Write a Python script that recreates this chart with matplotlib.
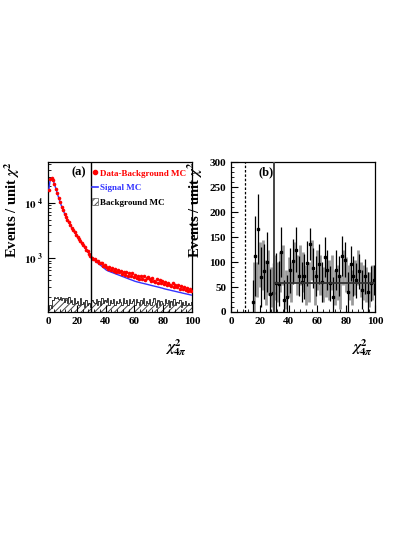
import numpy as np
import matplotlib
matplotlib.use("Agg")
import matplotlib.pyplot as plt
from matplotlib.lines import Line2D
from matplotlib.patches import Patch
from matplotlib.ticker import MultipleLocator, LogLocator, NullFormatter, FixedLocator

plt.rcParams['font.family'] = ['Liberation Serif', 'DejaVu Serif']
plt.rcParams['font.weight'] = 'bold'
plt.rcParams['mathtext.fontset'] = 'stix'
plt.rcParams['hatch.linewidth'] = 0.7

# ---------------- data: panel (a) ----------------
edges_a = np.arange(0, 101, 1)
centers_a = np.arange(0.5, 100, 1)

signal_mc = [17000, 26500, 28500, 26000, 22000, 18000, 14800, 12200, 10200, 8600,
             7400, 6400, 5600, 4950, 4400, 3950, 3550, 3200, 2900, 2650,
             2420, 2220, 2030, 1860, 1700, 1560, 1430, 1310, 1200, 1100,
             1010, 955, 905, 860, 818, 778, 740, 704, 670, 636,
             605, 588, 573, 560, 547, 535, 522, 510, 499, 487,
             476, 465, 455, 444, 434, 424, 414, 405, 396, 387,
             378, 372, 366, 361, 355, 350, 345, 340, 335, 330,
             325, 320, 315, 311, 306, 302, 297, 293, 288, 284,
             278, 274, 270, 266, 263, 259, 255, 252, 248, 245,
             241, 238, 235, 231, 228, 225, 222, 219, 216, 213]

data_minus_bkg = [17500, 27000, 28800, 25800, 22300, 17800, 14900, 12100, 10300, 8500,
                  7450, 6350, 5650, 4900, 4450, 3900, 3580, 3180, 2930, 2630,
                  2450, 2200, 2060, 1850, 1720, 1580, 1420, 1330, 1190, 1110,
                  1020, 970, 960, 890, 900, 830, 820, 800, 730, 740,
                  700, 640, 690, 610, 660, 590, 630, 560, 610, 550,
                  590, 520, 570, 500, 560, 480, 530, 470, 540, 450,
                  500, 440, 480, 420, 470, 410, 480, 400, 430, 450,
                  420, 385, 440, 380, 370, 410, 355, 400, 350, 380,
                  340, 370, 330, 360, 320, 310, 350, 300, 330, 295,
                  320, 280, 310, 275, 300, 265, 285, 255, 275, 250]

background_mc = [115, 140, 125, 170, 195, 185, 200, 180, 195, 170,
                 190, 160, 185, 150, 195, 160, 175, 145, 185, 150,
                 165, 140, 185, 145, 160, 132, 172, 138, 155, 132,
                 172, 160, 150, 178, 143, 166, 138, 185, 150, 172,
                 160, 190, 143, 172, 155, 184, 138, 166, 150, 178,
                 160, 143, 190, 155, 172, 138, 184, 150, 166, 178,
                 143, 184, 160, 138, 172, 155, 190, 143, 166, 150,
                 178, 138, 160, 190, 150, 132, 172, 143, 166, 155,
                 138, 184, 150, 172, 132, 166, 143, 178, 138, 160,
                 150, 172, 132, 160, 143, 166, 138, 155, 143, 160]

# ---------------- data: panel (b) ----------------
black_x = list(range(15, 100, 2))
black_y = [20, 113, 167, 70, 82, 100, 36, 38, 59, 57, 120, 25, 30, 84, 102, 125, 72, 60,
           72, 98, 137, 89, 72, 97, 60, 110, 84, 58, 30, 84, 72, 113, 105, 40, 97, 72,
           64, 82, 45, 72, 40, 58, 64]
black_err = [45, 80, 70, 60, 55, 60, 50, 60, 60, 45, 50, 40, 45, 45, 45, 45, 40, 40,
             45, 45, 32, 40, 40, 40, 40, 40, 40, 35, 40, 40, 40, 40, 35, 40, 35, 40,
             35, 35, 40, 35, 40, 35, 30]
gray_x = list(range(16, 99, 2))
gray_y = [50, 66, 95, 94, 60, 80, 50, 70, 60, 80, 95, 45, 70, 60, 100, 75, 95, 80, 55,
          60, 105, 50, 85, 75, 55, 70, 65, 80, 50, 60, 40, 90, 75, 60, 50, 70, 90, 65,
          60, 55, 45, 60]
gray_err = [50, 35, 45, 50, 45, 45, 40, 45, 40, 40, 40, 40, 40, 40, 40, 40, 40, 40, 40,
            40, 40, 35, 40, 40, 35, 40, 40, 35, 35, 35, 35, 35, 35, 35, 35, 35, 35, 35,
            35, 35, 35, 35]
fit_level = 58

# ---------------- figure ----------------
fig = plt.figure(figsize=(4.15, 5.37), dpi=100)
axa = fig.add_axes([0.1157, 0.419, 0.347, 0.279])
axb = fig.add_axes([0.5566, 0.419, 0.347, 0.279])

# ---- panel (a)
axa.set_yscale('log')
axa.stairs(background_mc, edges_a, baseline=1, fill=True, hatch='/////',
           facecolor='none', edgecolor='#444444', lw=0, zorder=1)
axa.stairs(background_mc, edges_a, baseline=1, fill=False, color='#222222', lw=0.6, zorder=2)
axa.plot(centers_a, signal_mc, color='#3333ff', lw=1.0, zorder=3)
axa.plot(centers_a, data_minus_bkg, 'o', color='#ff0000', ms=2.6, mew=0, zorder=4)
axa.axvline(30, color='black', lw=1.0, zorder=5)
axa.set_xlim(0, 100)
axa.set_ylim(105, 55000)
axa.xaxis.set_major_locator(MultipleLocator(20))
axa.xaxis.set_minor_locator(MultipleLocator(4))
axa.yaxis.set_major_locator(FixedLocator([1000, 10000]))
axa.yaxis.set_minor_locator(LogLocator(base=10, subs=np.arange(2, 10), numticks=20))
axa.yaxis.set_minor_formatter(NullFormatter())
axa.set_yticklabels([r'$\mathbf{10^{\ 3}}$', r'$\mathbf{10^{\ 4}}$'], fontsize=9)
axa.text(0.16, 0.93, '(a)', transform=axa.transAxes, fontsize=9, fontweight='bold',
         ha='left', va='center')

handles = [Line2D([], [], marker='o', color='#ff0000', ls='none', ms=3),
           Line2D([], [], color='#3333ff', lw=1.2),
           Patch(facecolor='white', edgecolor='#555555', hatch='/////', lw=0.5)]
labels = ['Data-Background MC', 'Signal MC', 'Background MC']
leg = axa.legend(handles, labels, loc='upper left', bbox_to_anchor=(0.305, 0.955),
                 frameon=False, borderaxespad=0, handlelength=0.7, handleheight=0.8,
                 handletextpad=0.15, labelspacing=0.68, borderpad=0,
                 prop=dict(size=6.5, weight='bold'))
for t, c in zip(leg.get_texts(), ['#ff0000', '#3333ff', 'black']):
    t.set_color(c)

axa.set_ylabel(r'Events / unit $\chi^2$', fontsize=10.5, fontweight='bold', loc='top')
axa.yaxis.set_label_coords(-0.18, 1.0)
axa.text(0.965, -0.165, r'$\chi^2_{4\pi}$', transform=axa.transAxes, fontsize=11,
         ha='right', va='top')

# ---- panel (b)
axb.errorbar(gray_x, gray_y, yerr=gray_err, fmt='none', ecolor='#9a9a9a', elinewidth=2.0,
             capsize=0, zorder=2)
axb.errorbar(black_x, black_y, yerr=black_err, fmt='s', color='black', ms=1.6,
             elinewidth=0.9, capsize=0, zorder=3)
axb.axvline(10, color='black', lw=0.9, ls=(0, (2, 1.5)), zorder=4)
axb.axvline(30, color='#444444', lw=1.4, zorder=4)
axb.hlines(fit_level, 30, 100, color='#333333', lw=1.3, zorder=5)
axb.set_xlim(0, 100)
axb.set_ylim(0, 300)
axb.xaxis.set_major_locator(MultipleLocator(20))
axb.xaxis.set_minor_locator(MultipleLocator(4))
axb.yaxis.set_major_locator(MultipleLocator(50))
axb.yaxis.set_minor_locator(MultipleLocator(10))
axb.text(0.19, 0.93, '(b)', transform=axb.transAxes, fontsize=9, fontweight='bold',
         ha='left', va='center')
axb.set_ylabel(r'Events / unit $\chi^2$', fontsize=10.5, fontweight='bold', loc='top')
axb.yaxis.set_label_coords(-0.18, 1.0)
axb.text(0.985, -0.165, r'$\chi^2_{4\pi}$', transform=axb.transAxes, fontsize=11,
         ha='right', va='top')

for ax in (axa, axb):
    ax.tick_params(which='both', direction='in', top=False, right=False, labelsize=8)
    ax.tick_params(which='major', length=5, width=0.8)
    ax.tick_params(which='minor', length=2.5, width=0.6)
    for lab in ax.get_xticklabels() + ax.get_yticklabels():
        lab.set_fontweight('bold')
    for s in ax.spines.values():
        s.set_linewidth(0.9)

fig.savefig('out.png', dpi=100)
